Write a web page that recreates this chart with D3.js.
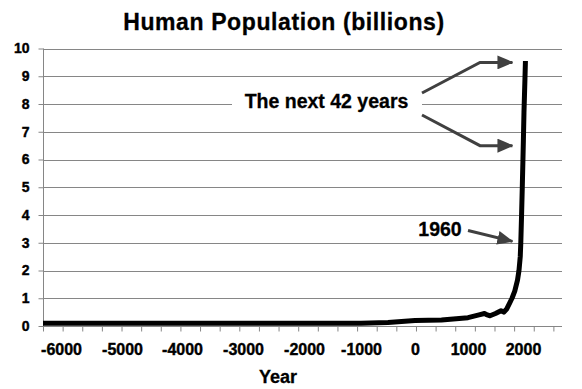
<!DOCTYPE html>
<html>
<head>
<meta charset="utf-8">
<script src="https://cdn.jsdelivr.net/npm/d3@7"></script>
<style>
  html, body { margin: 0; padding: 0; background: #fff; }
  svg { display: block; }
  text { font-family: "Liberation Sans", Arial, sans-serif; font-weight: bold; fill: #000; }
</style>
</head>
<body>
<svg id="chart" width="582" height="389"></svg>
<script>
// ---- data ----
const title = "Human Population (billions)";
const xTitle = "Year";
const years = [-6300, -1000, -500, 0, 500, 1000, 1200, 1300, 1350, 1400, 1500, 1600, 1650, 1700, 1750, 1800, 1850, 1900, 1927, 1950, 1960, 1974, 1987, 1999, 2008, 2020, 2030, 2040, 2050];
const population = [0.1, 0.1, 0.13, 0.2, 0.22, 0.3, 0.4, 0.45, 0.4, 0.37, 0.45, 0.55, 0.5, 0.6, 0.8, 1.0, 1.26, 1.65, 2.0, 2.5, 3.0, 4.0, 5.0, 6.0, 6.7, 7.7, 8.3, 8.9, 9.55];
const xTickLabels = [-6000, -5000, -4000, -3000, -2000, -1000, 0, 1000, 2000];
const yTicks = [0, 1, 2, 3, 4, 5, 6, 7, 8, 9, 10];
const arrowTargets = [
  { year: 2050, value: 9.5 },
  { year: 2008, value: 6.5 },
  { year: 1960, value: 3.05 }
];

// ---- layout ----
const svg = d3.select("#chart");
const pLeft = 43, pRight = 562, pTop = 48.5, pBottom = 326;
const fontFam = "'Liberation Sans', Arial, sans-serif";

// piecewise-linear year axis (the original axis is not uniform)
const x = d3.scaleLinear()
  .domain([-6300, -6000, -5000, -4000, -3000, -2000, -1000, 0, 1000, 2000, 2800])
  .range([pLeft, 61, 122, 182, 243, 304, 361, 415, 468, 523, pRight]);
const y = d3.scaleLinear().domain([0, 10]).range([pBottom, pTop]);

// title
svg.append("text")
  .attr("x", 284).attr("y", 30)
  .attr("text-anchor", "middle")
  .style("font-size", "23px")
  .style("letter-spacing", "0.6px")
  .attr("stroke", "#000").attr("stroke-width", 0.3)
  .text(title);

// gridlines
svg.append("g")
  .selectAll("line")
  .data(yTicks.filter(d => d > 0))
  .join("line")
  .attr("x1", pLeft).attr("x2", pRight)
  .attr("y1", d => Math.round(y(d)) + 0.5).attr("y2", d => Math.round(y(d)) + 0.5)
  .attr("stroke", "#868686").attr("stroke-width", 1);

// y axis
const yAxis = svg.append("g")
  .attr("transform", `translate(${pLeft + 0.5},0)`)
  .call(d3.axisLeft(y).tickValues(yTicks).tickSize(5).tickPadding(9).tickFormat(d => String(d)))
  .attr("font-size", 14).attr("font-family", fontFam).attr("font-weight", "bold");
yAxis.select(".domain").attr("stroke", "#868686").attr("d", `M0,${y(10)}V${pBottom}`);
yAxis.selectAll(".tick line").attr("stroke", "#868686");
yAxis.selectAll(".tick text").style("font-size", "14px").style("font-weight", "bold")
  .attr("fill", "#000").attr("stroke", "#000").attr("stroke-width", 0.4);

// x axis: minor tick marks at regular spacing
const minorPx = d3.range(pLeft, 556, 19.63);
const xMinor = svg.append("g")
  .attr("transform", `translate(0,${Math.round(pBottom) + 0.5})`)
  .call(d3.axisBottom(x).tickValues(minorPx.map(p => x.invert(p))).tickSize(5).tickFormat(""));
xMinor.select(".domain").attr("stroke", "#868686").attr("d", `M${pLeft},0H${pRight}`);
xMinor.selectAll(".tick line").attr("stroke", "#868686");

// x axis labels
const xLab = svg.append("g")
  .attr("transform", `translate(0,${pBottom})`)
  .call(d3.axisBottom(x).tickValues(xTickLabels).tickSize(0).tickPadding(18).tickFormat(d => String(d)))
  .attr("font-size", 16).attr("font-family", fontFam).attr("font-weight", "bold");
xLab.select(".domain").remove();
xLab.selectAll(".tick text").style("font-size", "16px").style("font-weight", "bold")
  .attr("fill", "#000").attr("stroke", "#000").attr("stroke-width", 0.4);

// x title
svg.append("text")
  .attr("x", 278).attr("y", 383)
  .attr("text-anchor", "middle")
  .style("font-size", "18px")
  .attr("stroke", "#000").attr("stroke-width", 0.3)
  .text(xTitle);

// population line
const data = years.map((yr, i) => ({ year: yr, value: population[i] }));
svg.append("path")
  .datum(data)
  .attr("fill", "none")
  .attr("stroke", "#000")
  .attr("stroke-width", 5)
  .attr("stroke-linejoin", "round")
  .attr("d", d3.line().x(d => x(d.year)).y(d => y(d.value)));

// arrowhead marker
const defs = svg.append("defs");
defs.append("marker")
  .attr("id", "ah")
  .attr("markerUnits", "userSpaceOnUse")
  .attr("viewBox", "0 0 16 14")
  .attr("refX", 15).attr("refY", 7)
  .attr("markerWidth", 16).attr("markerHeight", 14)
  .attr("orient", "auto")
  .append("path")
  .attr("d", "M0,0L16,7L0,14Z")
  .attr("fill", "#404040");

const arrowColor = "#404040";
const tipGap = 13;
// label with white background
svg.append("rect")
  .attr("x", 232).attr("y", 90).attr("width", 190).attr("height", 26)
  .attr("fill", "#fff");
svg.append("text")
  .attr("x", 326.5).attr("y", 108)
  .attr("text-anchor", "middle")
  .style("font-size", "19.5px")
  .attr("stroke", "#000").attr("stroke-width", 0.3)
  .text("The next 42 years");

// upper arrow (2050)
const t0 = arrowTargets[0];
svg.append("path")
  .attr("d", `M422,93L480,${y(t0.value)}L${x(t0.year) - tipGap},${y(t0.value)}`)
  .attr("fill", "none").attr("stroke", arrowColor).attr("stroke-width", 3)
  .attr("marker-end", "url(#ah)");
// lower arrow (2008)
const t1 = arrowTargets[1];
svg.append("path")
  .attr("d", `M422,115L480,${y(t1.value)}L${x(2050) - tipGap},${y(t1.value)}`)
  .attr("fill", "none").attr("stroke", arrowColor).attr("stroke-width", 3)
  .attr("marker-end", "url(#ah)");

// 1960 label + arrow
const t2 = arrowTargets[2];
svg.append("text")
  .attr("x", 440).attr("y", 236)
  .attr("text-anchor", "middle")
  .style("font-size", "19.5px")
  .attr("stroke", "#000").attr("stroke-width", 0.3)
  .text("1960");
svg.append("path")
  .attr("d", `M468,230.5L${x(2050) - tipGap},${y(t2.value)}`)
  .attr("fill", "none").attr("stroke", arrowColor).attr("stroke-width", 3)
  .attr("marker-end", "url(#ah)");
</script>
</body>
</html>
